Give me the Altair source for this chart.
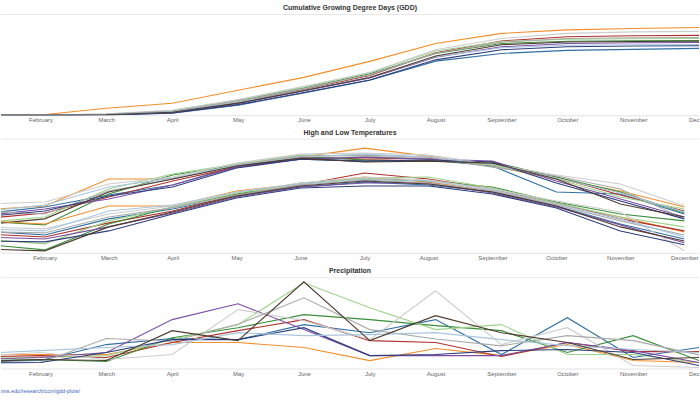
import altair as alt
import pandas as pd

# Month index 1..12; the axes show names for February..December.
MONTH_NAMES = ["January", "February", "March", "April", "May", "June", "July",
               "August", "September", "October", "November", "December"]

SERIES = ["2006", "2007", "2008", "2009", "2010", "2011",
          "2012", "2013", "2014", "2015", "2016"]
COLORS = ["#f28e2b", "#2f6fa3", "#b0302c", "#3a8d3a", "#9fd28c", "#7b4ea3",
          "#cdcdcd", "#aaaaaa", "#2e3d7c", "#a9c6de", "#4d3b2f"]

# Cumulative growing degree days, January..December, one row per series
gdd_values = [
    [0, 10, 280, 475, 990, 1505, 2140, 2850, 3250, 3390, 3445, 3485],
    [0, 0, 10, 80, 400, 880, 1390, 2150, 2455, 2575, 2615, 2655],
    [0, 0, 30, 130, 520, 1020, 1580, 2480, 2950, 3120, 3160, 3170],
    [0, 0, 35, 160, 580, 1080, 1650, 2450, 2850, 2940, 2960, 2970],
    [0, 0, 50, 190, 610, 1120, 1700, 2550, 2930, 3020, 3040, 3050],
    [0, 0, 20, 110, 470, 960, 1480, 2300, 2720, 2850, 2880, 2890],
    [0, 0, 60, 200, 620, 1150, 1700, 2600, 3050, 3250, 3310, 3330],
    [0, 0, 40, 170, 560, 1060, 1610, 2460, 2900, 3050, 3080, 3090],
    [0, 0, 15, 90, 420, 900, 1400, 2200, 2600, 2720, 2750, 2760],
    [0, 0, 30, 140, 520, 1000, 1520, 2320, 2680, 2780, 2800, 2810],
    [0, 0, 20, 120, 480, 980, 1500, 2350, 2800, 2910, 2930, 2940],
]

# Monthly mean high temperature (°F)
high_values = [
    [42.1, 45.0, 65.2, 65.2, 76.4, 81.6, 88.3, 82.3, 74.9, 65.2, 56.2, 44.3],
    [39.1, 44.3, 53.3, 60.7, 74.9, 80.1, 78.6, 79.4, 74.9, 55.5, 54.0, 39.1],
    [35.4, 39.8, 51.8, 63.7, 74.1, 81.6, 80.1, 80.8, 76.4, 66.7, 53.3, 41.3],
    [33.9, 30.9, 54.0, 68.2, 75.6, 82.3, 79.4, 78.6, 77.9, 66.7, 55.5, 39.8],
    [32.4, 36.8, 57.7, 68.9, 76.4, 83.1, 82.3, 80.1, 75.6, 65.2, 51.8, 42.8],
    [37.6, 42.8, 50.3, 60.7, 74.1, 80.1, 81.6, 80.1, 78.6, 63.7, 50.3, 36.8],
    [46.5, 48.0, 61.5, 66.7, 77.1, 83.8, 84.6, 83.1, 76.4, 68.2, 61.5, 45.0],
    [41.3, 39.1, 56.2, 65.2, 75.6, 82.3, 83.1, 81.6, 74.1, 67.4, 57.7, 35.4],
    [36.8, 41.3, 52.5, 59.2, 73.4, 80.1, 78.6, 79.4, 77.9, 62.2, 48.8, 35.4],
    [40.6, 45.8, 59.2, 65.9, 75.6, 81.6, 83.8, 81.6, 76.4, 65.9, 54.7, 40.6],
    [30.9, 35.4, 55.5, 65.2, 74.9, 80.8, 77.9, 78.6, 77.1, 65.2, 46.5, 36.8],
]

# Monthly mean low temperature (°F)
low_values = [
    [33.9, 31.6, 45.0, 45.0, 56.2, 61.5, 66.7, 62.9, 56.2, 46.5, 36.8, 25.7],
    [26.4, 23.4, 35.4, 42.8, 52.5, 59.2, 62.9, 60.7, 55.5, 45.0, 31.6, 20.4],
    [24.2, 21.9, 32.4, 41.3, 53.3, 60.7, 69.7, 65.2, 57.7, 47.3, 35.4, 26.4],
    [16.7, 12.2, 31.6, 44.3, 54.0, 62.2, 65.2, 63.7, 59.2, 48.0, 39.1, 33.9],
    [20.4, 16.7, 33.9, 44.3, 54.7, 61.5, 65.9, 66.7, 58.5, 47.3, 36.8, 29.4],
    [21.9, 20.4, 29.4, 39.8, 51.8, 59.2, 62.2, 62.2, 54.7, 44.3, 30.9, 17.5],
    [29.4, 27.9, 39.1, 45.0, 55.5, 62.2, 66.7, 64.4, 57.7, 48.8, 40.6, 11.5],
    [25.7, 24.9, 36.8, 43.6, 53.3, 60.7, 64.4, 62.2, 56.2, 45.8, 33.9, 23.4],
    [18.9, 18.2, 26.4, 39.1, 51.0, 58.5, 60.0, 60.0, 54.0, 43.6, 26.4, 16.0],
    [27.9, 26.4, 41.3, 45.8, 55.5, 61.5, 65.2, 63.7, 57.0, 46.5, 35.4, 21.9],
    [13.0, 11.5, 29.4, 40.6, 52.5, 60.0, 63.7, 61.5, 55.5, 45.0, 29.4, 18.9],
]

# Monthly precipitation (inches)
precip_values = [
    [1.20, 1.23, 1.23, 2.29, 2.29, 1.85, 0.70, 1.76, 1.14, 2.11, 0.70, 0.53],
    [0.60, 0.70, 2.11, 2.64, 2.55, 3.87, 3.16, 4.31, 1.23, 4.48, 0.97, 1.85],
    [1.00, 1.14, 0.97, 2.29, 3.34, 4.31, 2.46, 2.29, 1.06, 2.29, 1.49, 1.49],
    [0.70, 0.79, 0.62, 2.72, 3.60, 4.75, 4.31, 3.78, 3.34, 1.41, 2.90, 0.70],
    [0.90, 0.97, 1.14, 2.55, 3.87, 7.56, 5.36, 3.43, 3.87, 1.23, 1.23, 0.53],
    [0.80, 0.97, 1.41, 4.31, 5.71, 3.43, 1.14, 1.14, 1.14, 2.29, 1.58, 0.53],
    [1.10, 1.41, 0.79, 1.23, 5.19, 4.22, 2.55, 6.86, 2.11, 3.60, 0.26, 0.09],
    [0.50, 0.53, 2.64, 2.40, 3.90, 6.24, 3.43, 2.60, 2.00, 2.90, 2.46, 1.20],
    [0.50, 0.53, 1.41, 2.55, 2.55, 3.60, 1.14, 1.23, 1.58, 1.67, 1.41, 0.26],
    [1.30, 1.58, 1.85, 2.11, 3.16, 2.90, 2.99, 3.16, 2.55, 2.02, 1.67, 1.41],
    [0.60, 0.79, 0.70, 3.34, 2.46, 7.65, 2.46, 4.66, 3.16, 2.29, 0.79, 0.97],
]

LINK_TEXT = "ims.edu/research/ccm/gdd-plots/"


def long_table(rows, kind):
    records = []
    for name, row in zip(SERIES, rows):
        for month, value in enumerate(row, start=1):
            records.append({"series": name, "line": f"{name}-{kind}",
                            "month": month, "value": value})
    return pd.DataFrame(records)


gdd_df = long_table(gdd_values, "gdd")
temp_df = pd.concat([long_table(high_values, "high"),
                     long_table(low_values, "low")], ignore_index=True)
precip_df = long_table(precip_values, "precip")

FULL_LABELS = "['','January','February','March','April','May','June','July'," \
              "'August','September','October','November','December'][datum.value]"
# panels whose December sits on the right edge show a short, right-aligned label
EDGE_LABELS = "datum.value == 12 ? 'Dec' : " + FULL_LABELS

FONT = "Liberation Sans"


def panel(df, title, x_domain, y_domain, height, edge_dec=False, label_pad=2,
          extra=None):
    axis_kw = dict(values=list(range(2, 13)), title=None, grid=False, ticks=False,
                   domainColor="#e4e4e4", domainWidth=1,
                   labelFontSize=6, labelFont=FONT, labelColor="#666666",
                   labelPadding=label_pad, labelOverlap=False, labelFlush=False)
    if edge_dec:
        axis_kw["labelExpr"] = EDGE_LABELS
        axis_kw["labelAlign"] = alt.ExprRef(
            expr="datum.value == 12 ? 'right' : 'center'")
    else:
        axis_kw["labelExpr"] = FULL_LABELS

    lines = alt.Chart(df).mark_line(strokeWidth=1.1, clip=True).encode(
        x=alt.X("month:Q",
                scale=alt.Scale(domain=x_domain, nice=False, zero=False),
                axis=alt.Axis(**axis_kw)),
        y=alt.Y("value:Q", scale=alt.Scale(domain=y_domain, nice=False, zero=False),
                axis=None),
        color=alt.Color("series:N", scale=alt.Scale(domain=SERIES, range=COLORS),
                        legend=None),
        detail="line:N",
    )
    # thin separator along the top edge of the plot, under the title
    top_rule = alt.Chart(df.head(1)).mark_rule(color="#e8e8e8", strokeWidth=1).encode(
        x=alt.value(0), x2=alt.value(700), y=alt.value(0)
    )
    layers = [top_rule, lines]
    if extra is not None:
        layers.append(extra)
    return alt.layer(*layers).properties(
        width=700, height=height,
        title=alt.TitleParams(title, fontSize=7, font=FONT, fontWeight="bold",
                              color="#333333", anchor="middle", offset=3),
    )


link = alt.Chart(pd.DataFrame({"t": [LINK_TEXT]})).mark_text(
    align="left", baseline="middle", fontSize=5.5, font=FONT, color="#3b63c4"
).encode(text="t:N", x=alt.value(0), y=alt.value(114))

top = panel(gdd_df, "Cumulative Growing Degree Days (GDD)", [1.4, 12.0], [0, 4000], 101,
            edge_dec=True, label_pad=1)
mid = panel(temp_df, "High and Low Temperatures", [1.316, 12.23], [10, 95], 114)
bottom = panel(precip_df, "Precipitation", [1.4, 12.0], [0, 8], 91,
               edge_dec=True, extra=link)

chart = alt.vconcat(top, mid, bottom, spacing=6).properties(
    padding={"left": 0, "top": 3, "right": 0, "bottom": 0}, background="white"
).configure_view(stroke=None)

chart.save("out.html", embed_options={"renderer": "svg", "actions": False})
